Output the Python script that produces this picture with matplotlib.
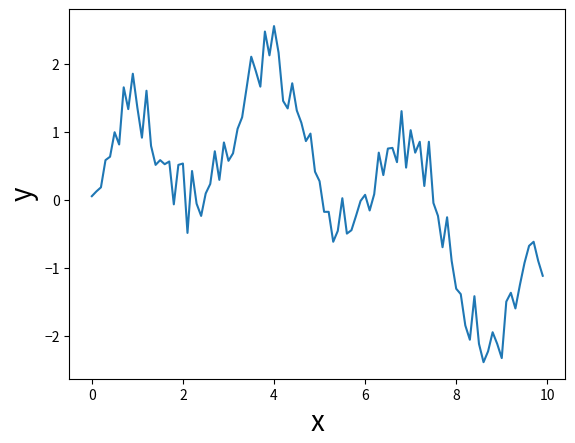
import numpy as np
import matplotlib
matplotlib.use("Agg")
import matplotlib.pyplot as plt

plt.rcParams['font.family'] = ['Noto Sans CJK JP', 'DejaVu Sans']

# random walk values, x = 0.0 .. 9.9 in steps of 0.1
x = np.arange(100) / 10
y = [0.06, 0.13, 0.19, 0.59, 0.64, 1.00, 0.82, 1.66, 1.34, 1.86,
     1.36, 0.92, 1.61, 0.80, 0.52, 0.59, 0.53, 0.57, -0.06, 0.52,
     0.54, -0.48, 0.43, -0.05, -0.23, 0.10, 0.24, 0.72, 0.30, 0.85,
     0.58, 0.69, 1.05, 1.22, 1.66, 2.11, 1.90, 1.67, 2.48, 2.13,
     2.56, 2.17, 1.46, 1.35, 1.72, 1.32, 1.14, 0.87, 0.98, 0.42,
     0.28, -0.17, -0.17, -0.61, -0.45, 0.03, -0.49, -0.44, -0.23, -0.01,
     0.08, -0.15, 0.09, 0.70, 0.37, 0.76, 0.77, 0.56, 1.31, 0.48,
     1.03, 0.70, 0.86, 0.21, 0.86, -0.04, -0.23, -0.69, -0.25, -0.89,
     -1.30, -1.38, -1.84, -2.05, -1.41, -2.11, -2.38, -2.22, -1.94, -2.11,
     -2.32, -1.49, -1.36, -1.59, -1.24, -0.92, -0.67, -0.61, -0.89, -1.11]

fig = plt.figure(figsize=(5.75, 4.43), dpi=100)
ax = fig.add_axes([0.1205, 0.1445, 0.8626, 0.8345])
ax.plot(x, y)
ax.set_xlabel("x", fontsize=20)
ax.set_ylabel("y", fontsize=20)

fig.savefig("out.png", dpi=100)
